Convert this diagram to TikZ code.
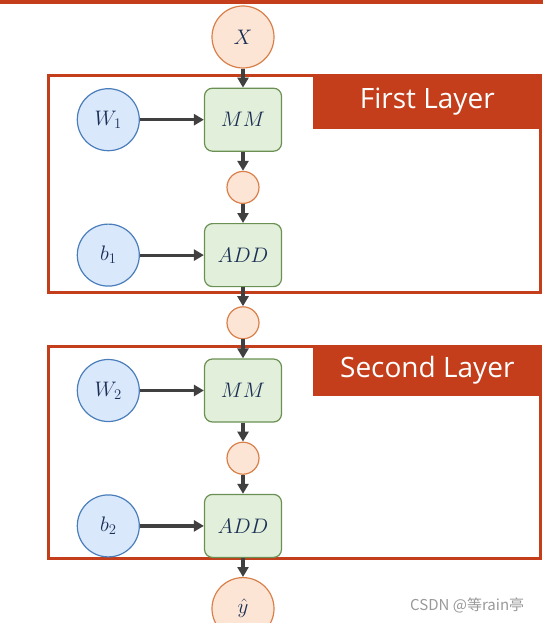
\RequirePackage{fix-cm}
\documentclass[tikz,border=0pt]{standalone}
\usepackage{amsmath,amssymb}
\usepackage{fontspec}
\setsansfont{Open Sans}
\newfontfamily\cjkfont{Noto Sans CJK SC}
\usepackage{tikz}
\usetikzlibrary{arrows.meta,positioning}
\definecolor{LayerRed}{HTML}{C43E1C}
\definecolor{SoftBlue}{HTML}{DAE8FC}
\definecolor{EdgeBlue}{HTML}{4A7EBB}
\definecolor{SoftGreen}{HTML}{E2EFDA}
\definecolor{EdgeGreen}{HTML}{6A9153}
\definecolor{SoftOrange}{HTML}{FDE5D6}
\definecolor{EdgeOrange}{HTML}{D9804A}
\definecolor{InkNavy}{HTML}{1A2F55}
\definecolor{ArrowGray}{HTML}{404040}
\begin{document}
\begin{tikzpicture}[x=1pt,y=1pt,node distance=19pt and 64pt,
  every node/.style={font=\fontsize{21}{25}\selectfont,text=InkNavy},
  bignode/.style={circle,draw=EdgeOrange,fill=SoftOrange,line width=1.2pt,minimum size=62pt,inner sep=0pt},
  midnode/.style={circle,draw=EdgeOrange,fill=SoftOrange,line width=1.2pt,minimum size=32pt,inner sep=0pt},
  parnode/.style={circle,draw=EdgeBlue,fill=SoftBlue,line width=1.2pt,minimum size=62pt,inner sep=0pt},
  opbox/.style={draw=EdgeGreen,fill=SoftGreen,rounded corners=8pt,line width=1.2pt,minimum width=77pt,minimum height=63pt,inner sep=0pt},
  flow/.style={draw=ArrowGray,line width=3.2pt,-{Triangle[length=10pt,width=11pt]}},
  layerframe/.style={draw=LayerRed,line width=3pt},
  layertitle/.style={fill=LayerRed,text=white,font=\sffamily\fontsize{28}{32}\selectfont,minimum width=228pt,minimum height=54pt,inner sep=0pt,anchor=north east}]
\useasboundingbox (0,0) rectangle (543,-623);
\fill[LayerRed] (0,0) rectangle (543,-4);
% layer frames
\draw[layerframe] (48,-76) rectangle (540,-292);
\draw[layerframe] (48,-346) rectangle (540,-558);
\node[layertitle] (t1) at (541.5,-74.5) {First Layer};
\node[layertitle,minimum height=51pt] (t2) at (541.5,-344.5) {Second Layer};
% main column
\node[bignode] (x) at (243,-37) {$X$};
\node[opbox,below=of x] (mm1) {$MM$};
\node[midnode,below=of mm1] (h1) {};
\node[opbox,below=of h1] (add1) {$ADD$};
\node[midnode,below=of add1] (z1) {};
\node[opbox,below=of z1] (mm2) {$MM$};
\node[midnode,below=of mm2] (h2) {};
\node[opbox,below=of h2] (add2) {$ADD$};
\node[bignode,below=of add2] (yhat) {$\hat{y}$};
% parameters
\node[parnode,left=of mm1] (w1) {$W_1$};
\node[parnode,left=of add1] (b1) {$b_1$};
\node[parnode,left=of mm2] (w2) {$W_2$};
\node[parnode,left=of add2] (b2) {$b_2$};
\draw[flow] (x) -- (mm1);
\draw[flow] (mm1) -- (h1);
\draw[flow] (h1) -- (add1);
\draw[flow] (add1) -- (z1);
\draw[flow] (z1) -- (mm2);
\draw[flow] (mm2) -- (h2);
\draw[flow] (h2) -- (add2);
\draw[flow] (add2) -- (yhat);
\draw[flow] (w1) -- (mm1);
\draw[flow] (b1) -- (add1);
\draw[flow] (w2) -- (mm2);
\draw[flow] (b2) -- (add2);
\node[anchor=west,text=gray!80,font=\cjkfont\fontsize{15}{17}\selectfont,inner sep=0pt] (mark) at (410,-605) {CSDN @等rain亭};
\end{tikzpicture}
\end{document}
